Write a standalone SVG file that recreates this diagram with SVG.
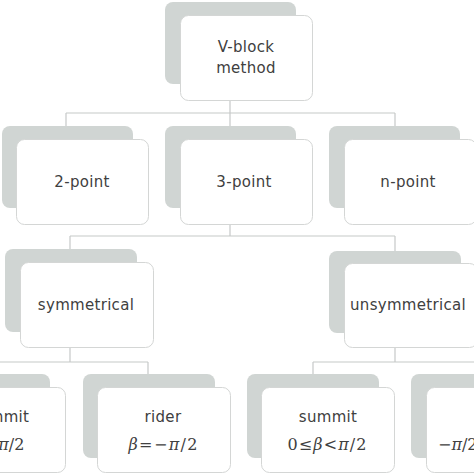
<svg xmlns="http://www.w3.org/2000/svg" width="474" height="474" viewBox="0 0 474 474">
<style>
.back{fill:#d0d5d3;}
.front{fill:#ffffff;stroke:#d4d6d5;stroke-width:1;}
.lbl{font-family:"DejaVu Sans",sans-serif;font-size:15px;fill:#404040;text-anchor:middle;letter-spacing:0.3px;}
.math{font-family:"DejaVu Serif","Liberation Serif",serif;font-size:16px;fill:#404040;text-anchor:middle;}
.it{font-style:italic;}
.conn{fill:none;stroke:#c6c9c8;stroke-width:1.2;}
</style>
<rect width="474" height="474" fill="#ffffff"/>
<g id="connectors">
<path class="conn" d="M230 100V113M66 113H395M66 113V126M230 113V126M395 113V126"/>
<path class="conn" d="M230 225V236M70 236H395M70 236V249M395 236V251"/>
<path class="conn" d="M70 348V362M-16 362H148M148 362V374"/>
<path class="conn" d="M395 348V362M313 362H480M313 362V374"/>
</g>
<g id="n-vblock">
<rect class="back" x="165" y="2" width="131" height="82" rx="8"/>
<rect class="front" x="180.5" y="15.5" width="132" height="85" rx="8"/>
<text class="lbl" x="246" y="52">V-block</text>
<text class="lbl" x="246" y="73">method</text>
</g>
<g id="n-2point">
<rect class="back" x="2" y="126" width="131" height="82" rx="8"/>
<rect class="front" x="16.5" y="139.5" width="132" height="85" rx="8"/>
<text class="lbl" x="82" y="187">2-point</text>
</g>
<g id="n-3point">
<rect class="back" x="165" y="126" width="131" height="82" rx="8"/>
<rect class="front" x="180.5" y="139.5" width="132" height="85" rx="8"/>
<text class="lbl" x="244" y="187">3-point</text>
</g>
<g id="n-npoint">
<rect class="back" x="329" y="126" width="131" height="82" rx="8"/>
<rect class="front" x="344.5" y="139.5" width="132" height="85" rx="8"/>
<text class="lbl" x="408" y="187">n-point</text>
</g>
<g id="n-symmetrical">
<rect class="back" x="5" y="249" width="132" height="83" rx="8"/>
<rect class="front" x="20.5" y="262.5" width="133" height="85" rx="8"/>
<text class="lbl" x="86" y="310">symmetrical</text>
</g>
<g id="n-unsymmetrical">
<rect class="back" x="329" y="251" width="132" height="82" rx="8"/>
<rect class="front" x="344.5" y="263.5" width="133" height="84" rx="8"/>
<text class="lbl" x="408" y="310">unsymmetrical</text>
</g>
<g id="n-summit-sym">
<rect class="back" x="-82" y="374" width="132" height="84" rx="8"/>
<rect class="front" x="-67.5" y="387.5" width="133" height="85" rx="8"/>
<text class="lbl" x="0" y="422">summit</text>
<text class="math" x="0" y="450"><tspan class="it">β</tspan>=<tspan class="it">π</tspan>/2</text>
</g>
<g id="n-rider">
<rect class="back" x="83" y="374" width="132" height="84" rx="8"/>
<rect class="front" x="97.5" y="387.5" width="133" height="85" rx="8"/>
<text class="lbl" x="163" y="422">rider</text>
<text class="math" x="163" y="450" textLength="69" lengthAdjust="spacing"><tspan class="it">β</tspan>=−<tspan class="it">π</tspan>/2</text>
</g>
<g id="n-summit-unsym">
<rect class="back" x="247" y="374" width="132" height="84" rx="8"/>
<rect class="front" x="261.5" y="387.5" width="133" height="85" rx="8"/>
<text class="lbl" x="328" y="422">summit</text>
<text class="math" x="327" y="450" textLength="79" lengthAdjust="spacing">0≤<tspan class="it">β</tspan>&lt;<tspan class="it">π</tspan>/2</text>
</g>
<g id="n-right">
<rect class="back" x="411" y="374" width="132" height="84" rx="8"/>
<rect class="front" x="426.5" y="387.5" width="133" height="85" rx="8"/>
<text class="math" x="438" y="450" style="text-anchor:start">−<tspan class="it">π</tspan>/2&lt;<tspan class="it">β</tspan>&lt;0</text>
</g>
</svg>
